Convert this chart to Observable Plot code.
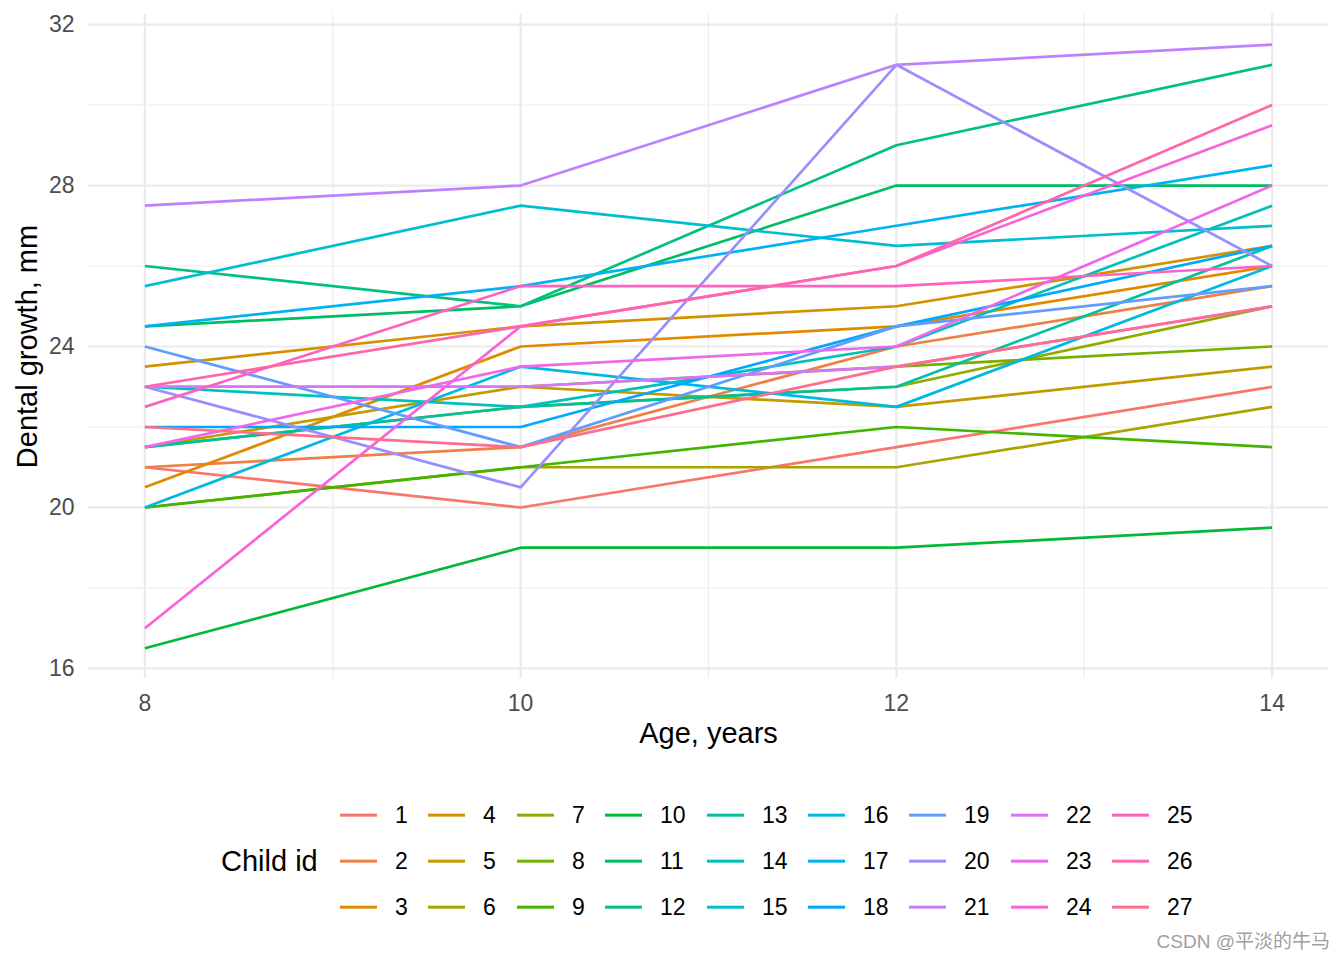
<!DOCTYPE html>
<html>
<head>
<meta charset="utf-8">
<script src="https://cdn.jsdelivr.net/npm/d3@7"></script>
<script src="https://cdn.jsdelivr.net/npm/@observablehq/plot@0.6"></script>
<style>
  html, body { margin: 0; padding: 0; background: #fff; }
  #wrap { position: relative; width: 1344px; height: 960px; background: #fff; font-family: "Liberation Sans", Arial, "Noto Sans CJK SC", sans-serif; overflow: hidden; }
  #chart { position: absolute; left: 0; top: 0; }
  .key { position: absolute; width: 37px; height: 2.7px; transform: translateY(-50%); }
  .lab { position: absolute; font-size: 23px; line-height: 1; color: #000; transform: translateY(-50%); white-space: nowrap; }
  #ltitle { position: absolute; left: 221px; top: 861px; font-size: 29px; line-height: 1; color: #000; transform: translateY(-50%); }
  #wm { position: absolute; right: 14px; top: 932px; font-size: 19px; line-height: 1; color: #a0a0a0; white-space: nowrap; }
</style>
</head>
<body>
<div id="wrap">
  <div id="chart"></div>
  <div id="legend"></div>
  <div id="ltitle">Child id</div>
  <div id="wm">CSDN @平淡的牛马</div>
</div>
<script>
// ---- data ----
const ages = [8, 10, 12, 14];
const childIds = [1,2,3,4,5,6,7,8,9,10,11,12,13,14,15,16,17,18,19,20,21,22,23,24,25,26,27];
const distance = [
  [21, 20, 21.5, 23],
  [21, 21.5, 24, 25.5],
  [20.5, 24, 24.5, 26],
  [23.5, 24.5, 25, 26.5],
  [21.5, 23, 22.5, 23.5],
  [20, 21, 21, 22.5],
  [21.5, 22.5, 23, 25],
  [23, 23, 23.5, 24],
  [20, 21, 22, 21.5],
  [16.5, 19, 19, 19.5],
  [24.5, 25, 28, 28],
  [26, 25, 29, 31],
  [21.5, 22.5, 23, 26.5],
  [23, 22.5, 24, 27.5],
  [25.5, 27.5, 26.5, 27],
  [20, 23.5, 22.5, 26],
  [24.5, 25.5, 27, 28.5],
  [22, 22, 24.5, 26.5],
  [24, 21.5, 24.5, 25.5],
  [23, 20.5, 31, 26],
  [27.5, 28, 31, 31.5],
  [23, 23, 23.5, 25],
  [21.5, 23.5, 24, 28],
  [17, 24.5, 26, 29.5],
  [22.5, 25.5, 25.5, 26],
  [23, 24.5, 26, 30],
  [22, 21.5, 23.5, 25]
];
const xTicks = [8, 10, 12, 14];
const xMinor = [9, 11, 13];
const yTicks = [16, 20, 24, 28, 32];
const yMinor = [18, 22, 26, 30];
const xTitle = "Age, years";
const yTitle = "Dental growth, mm";

// ---- ggplot2 default hue palette (polar LUV, l=65, c=100) ----
function hclHex(h, c, l) {
  const hr = h * Math.PI / 180;
  const u = c * Math.cos(hr), v = c * Math.sin(hr);
  const Xn = 0.95047, Yn = 1, Zn = 1.08883;
  const den = Xn + 15 * Yn + 3 * Zn;
  const un = 4 * Xn / den, vn = 9 * Yn / den;
  const Y = l > 8 ? Yn * Math.pow((l + 16) / 116, 3) : Yn * l / 903.3;
  const up = u / (13 * l) + un, vp = v / (13 * l) + vn;
  const X = Y * 9 * up / (4 * vp);
  const Z = Y * (12 - 3 * up - 20 * vp) / (4 * vp);
  const lin = [
    3.240479 * X - 1.537150 * Y - 0.498535 * Z,
    -0.969256 * X + 1.875992 * Y + 0.041556 * Z,
    0.055648 * X - 0.204043 * Y + 1.057311 * Z
  ];
  const g = lin.map(t => {
    const s = t <= 0.0031308 ? 12.92 * t : 1.055 * Math.pow(t, 1 / 2.4) - 0.055;
    return Math.round(Math.max(0, Math.min(1, s)) * 255);
  });
  return "#" + g.map(x => x.toString(16).padStart(2, "0")).join("");
}
const n = childIds.length;
const palette = childIds.map((d, i) => hclHex(15 + i * 360 / n, 100, 65));

const rows = childIds.flatMap((id, i) => ages.map((a, j) => ({id, age: a, distance: distance[i][j]})));

const grid = "#EBEBEB";
const chart = Plot.plot({
  width: 1344,
  height: 760,
  marginLeft: 88,
  marginRight: 16,
  marginTop: 14,
  marginBottom: 82,
  style: {fontFamily: "'Liberation Sans', Arial, sans-serif", fontSize: "23px", color: "#4D4D4D", background: "white", overflow: "visible"},
  x: {domain: [7.7, 14.3]},
  y: {domain: [15.75, 32.25]},
  color: {type: "ordinal", domain: childIds, range: palette},
  marks: [
    Plot.ruleX(xMinor, {stroke: grid, strokeWidth: 1.1}),
    Plot.ruleY(yMinor, {stroke: grid, strokeWidth: 1.1}),
    Plot.ruleX(xTicks, {stroke: grid, strokeWidth: 2.2}),
    Plot.ruleY(yTicks, {stroke: grid, strokeWidth: 2.2}),
    Plot.axisX({ticks: xTicks, tickFormat: d => String(d), tickSize: 0, tickPadding: 16, fontSize: 23, label: null}),
    Plot.axisY({ticks: yTicks, tickFormat: d => String(d), tickSize: 0, tickPadding: 14, fontSize: 23, label: null}),
    Plot.line(rows, {x: "age", y: "distance", z: "id", stroke: "id", strokeWidth: 2.7, strokeLinecap: "butt", strokeLinejoin: "round"}),
    Plot.text([xTitle], {text: d => d, frameAnchor: "bottom", dy: 64, lineAnchor: "bottom", fontSize: 29, fill: "black"}),
    Plot.text([yTitle], {text: d => d, frameAnchor: "left", dx: -52, rotate: -90, textAnchor: "middle", lineAnchor: "bottom", fontSize: 29, fill: "black"})
  ]
});
document.getElementById("chart").appendChild(chart);

// ---- legend ----
const colX = [340, 428, 517, 605, 707, 808, 909, 1011, 1112];
const rowY = [815, 861, 907];
const legend = document.getElementById("legend");
childIds.forEach((id, i) => {
  const c = Math.floor(i / 3), r = i % 3;
  const k = document.createElement("div");
  k.className = "key";
  k.style.left = colX[c] + "px";
  k.style.top = rowY[r] + "px";
  k.style.background = palette[i];
  legend.appendChild(k);
  const t = document.createElement("div");
  t.className = "lab";
  t.style.left = (colX[c] + 55) + "px";
  t.style.top = rowY[r] + "px";
  t.textContent = String(id);
  legend.appendChild(t);
});
</script>
</body>
</html>
